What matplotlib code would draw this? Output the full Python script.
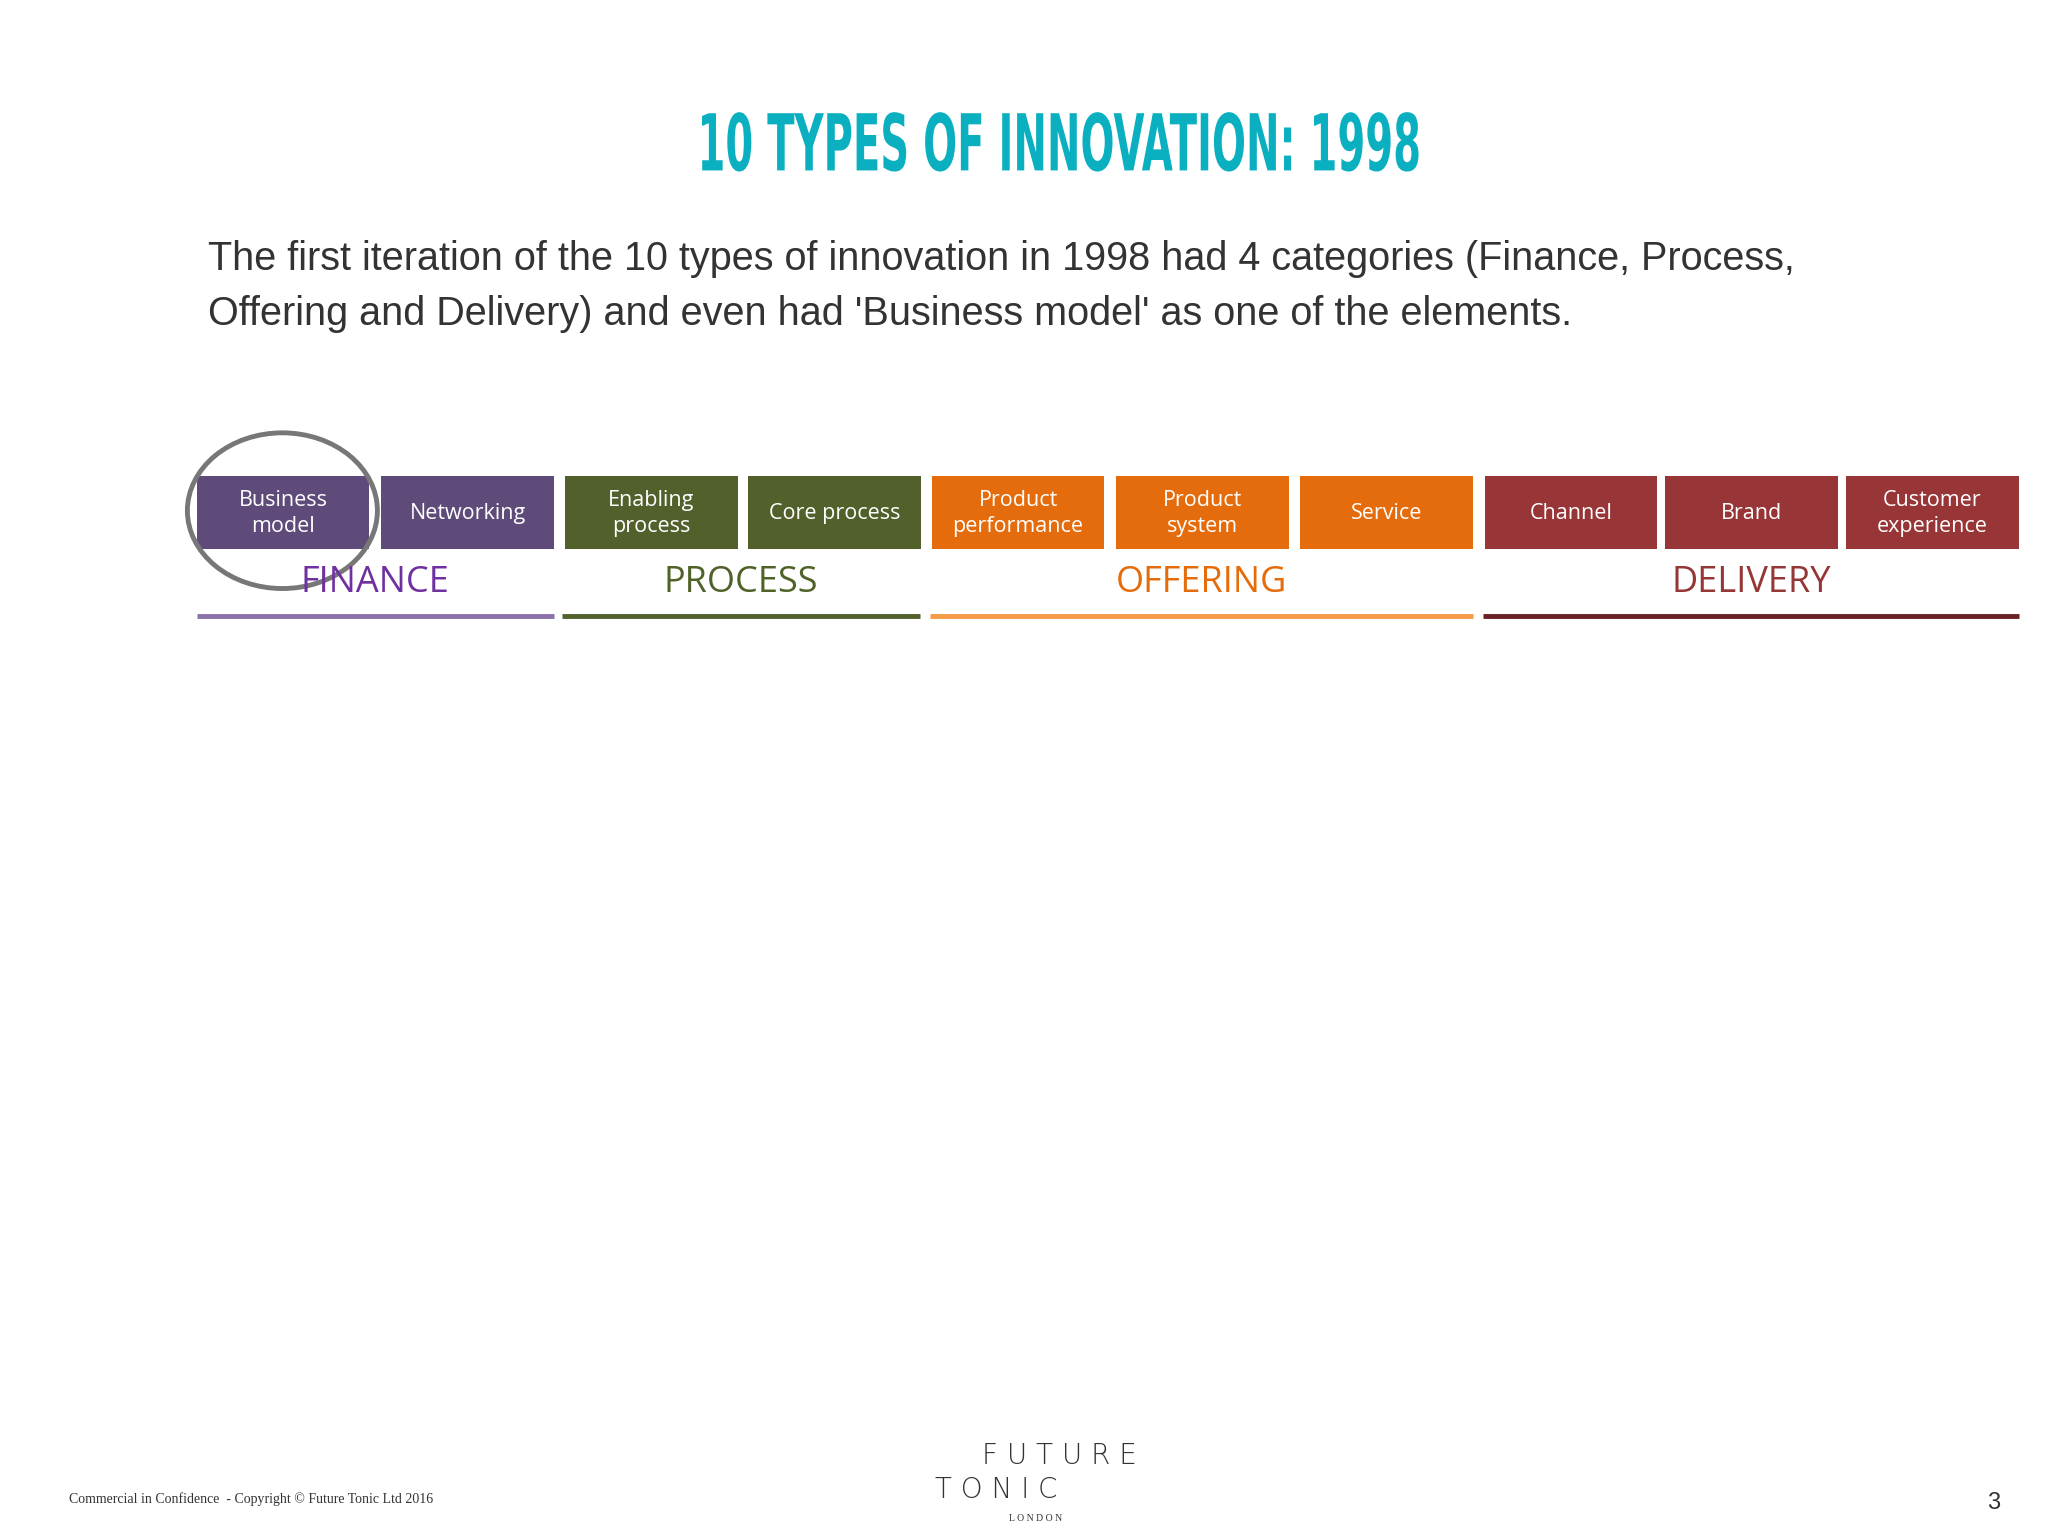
import matplotlib.pyplot as plt
from matplotlib.patches import Rectangle, Ellipse, PathPatch
from matplotlib.textpath import TextPath
from matplotlib.font_manager import FontProperties
from matplotlib.transforms import Affine2D

# layout in slide pixels (1552 x 1164 reference)
W, H = 1552, 1164

title = '10 TYPES OF INNOVATION: 1998'
types = ['Business\nmodel', 'Networking', 'Enabling\nprocess', 'Core process',
         'Product\nperformance', 'Product\nsystem', 'Service',
         'Channel', 'Brand', 'Customer\nexperience']
type_cat = [0, 0, 1, 1, 2, 2, 2, 3, 3, 3]
categories = ['FINANCE', 'PROCESS', 'OFFERING', 'DELIVERY']
box_colors = ['#5E4B7A', '#52612B', '#E56C0C', '#973537']
cat_colors = ['#7030A0', '#4F6228', '#E46C0A', '#953735']
line_colors = ['#8A72A8', '#52612B', '#F59A45', '#6B2225']

box_left = [149, 289, 428, 567, 706, 846, 985, 1125, 1262, 1399]
box_w = 131
line_span = [(149, 420), (426, 697), (705, 1116), (1124, 1530)]

fig = plt.figure(figsize=(20.48, 15.36), dpi=100)
ax = fig.add_axes([0, 0, 1, 1])
ax.set_xlim(0, W)
ax.set_ylim(H, 0)
ax.axis('off')

# condensed title: squeeze a bold text path into the title box
tp = TextPath((0, 0), title, size=1,
              prop=FontProperties(family='DejaVu Sans', weight='bold'))
ext = tp.get_extents()
x0, x1, y0, y1 = 532, 1075, 85, 130
tr = (Affine2D().translate(-ext.x0, -ext.y0)
      .scale((x1 - x0) / ext.width, -(y1 - y0) / ext.height)
      .translate(x0, y1))
ax.add_patch(PathPatch(tr.transform_path(tp), color='#0AAFC0', lw=0))

ax.text(158, 196, "The first iteration of the 10 types of innovation in 1998 had 4 categories (Finance, Process,",
        ha='left', va='center', fontsize=28.5, color='#333333', family='Liberation Sans')
ax.text(158, 238, "Offering and Delivery) and even had 'Business model' as one of the elements.",
        ha='left', va='center', fontsize=28.5, color='#333333', family='Liberation Sans')

for lbl, c, x in zip(types, type_cat, box_left):
    ax.add_patch(Rectangle((x, 361), box_w, 55, color=box_colors[c], lw=0))
    ax.text(x + box_w / 2, 389, lbl, ha='center', va='center', fontsize=15.5,
            color='white', family='Open Sans', linespacing=1.3)

for i, (a, b) in enumerate(line_span):
    ax.text((a + b) / 2, 442, categories[i], ha='center', va='center',
            fontsize=26, color=cat_colors[i], family='Open Sans')
    ax.plot([a, b], [467, 467], color=line_colors[i], lw=3.5, solid_capstyle='butt')

ax.add_patch(Ellipse((214, 387), 144, 118, fill=False, ec='#777777', lw=3.5))

# footer
ax.text(52, 1136, 'Commercial in Confidence  - Copyright © Future Tonic Ltd 2016',
        ha='left', va='center', fontsize=10, color='#333333', family='Liberation Serif')
ax.text(803, 1103, 'F U T U R E', ha='center', va='center', fontsize=20,
        color='#333333', family='DejaVu Sans', fontweight='light')
ax.text(755, 1129, 'T O N I C', ha='center', va='center', fontsize=20,
        color='#333333', family='DejaVu Sans', fontweight='light')
ax.text(785, 1151, 'L O N D O N', ha='center', va='center', fontsize=7,
        color='#333333', family='Liberation Serif')
ax.text(1511, 1139, '3', ha='center', va='center', fontsize=17,
        color='#333333', family='Liberation Sans')

fig.savefig('out.png', dpi=100, facecolor='white')
